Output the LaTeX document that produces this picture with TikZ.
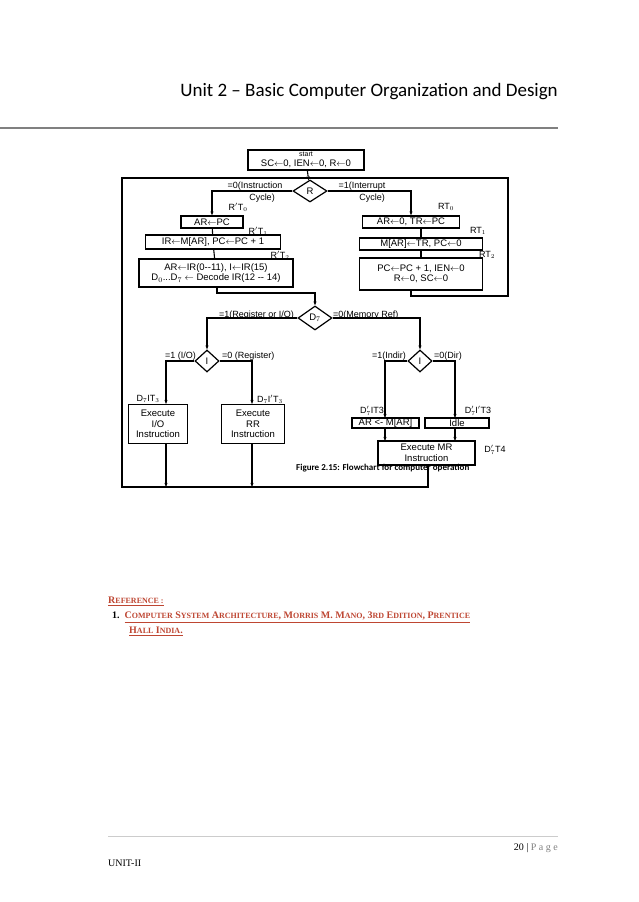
\documentclass[tikz,border=0pt]{standalone}
\usepackage{fontspec}
\setmainfont{Liberation Serif}
\newfontfamily\dsans{Liberation Sans}
\newfontfamily\calfont{Carlito}
\usetikzlibrary{shapes.geometric,arrows.meta}
\definecolor{refred}{RGB}{190,70,50}
\begin{document}
\begin{tikzpicture}[x=1pt,y=-1pt,
  bx/.style={draw,line width=1.2pt,inner sep=0pt,font=\dsans\fontsize{9.5}{10.5}\selectfont,align=center},
  dm/.style={draw,line width=1.2pt,diamond,aspect=1.5,inner sep=0.5pt,font=\dsans\fontsize{9.5}{10}\selectfont},
  ln/.style={line width=1.1pt},
  ar/.style={line width=1.1pt,-{Stealth[length=4pt]}},
  lb/.style={font=\dsans\fontsize{9}{10}\selectfont,inner sep=0pt}]
\useasboundingbox (0,0) rectangle (638,902);
\fill[white] (0,0) rectangle (638,902);
% header
\node[anchor=east,font=\calfont\fontsize{19}{22}\selectfont,inner sep=0] (hd) at (558,92) {Unit 2 \textendash{} Basic Computer Organization and Design};
\coordinate (hl1) at (0,128); \coordinate (hl2) at (558,128);
\draw[gray,line width=1.5pt] (hl1) -- (hl2);
% start
\node[bx,minimum width=116,minimum height=20] (st) at (306,160) {\fontsize{7}{7}\selectfont start\\[-1pt] SC$\leftarrow$0, IEN$\leftarrow$0, R$\leftarrow$0};
\node[dm,minimum width=34,minimum height=22] (R) at (310,191) {R};
\draw[ar] (st) -- (R);
% outer loop
\coordinate (tp) at (310,178);
\coordinate (lt) at (122,178); \coordinate (rt) at (508,178);
\coordinate (lbc) at (122,487); \coordinate (rb) at (508,296);
% left column
\node[bx,minimum width=62,minimum height=12] (a1) at (212,222) {AR$\leftarrow$PC};
\node[bx,minimum width=135,minimum height=14] (a2) at (213,242) {IR$\leftarrow$M[AR], PC$\leftarrow$PC + 1};
\node[bx,minimum width=154,minimum height=28] (a3) at (216,273) {AR$\leftarrow$IR(0--11), I$\leftarrow$IR(15)\\D$_0$...D$_7$ $\leftarrow$ Decode IR(12 -- 14)};
\draw[ar] (R.west) -| (a1.north);
\draw[ln] (a1) -- (a2); \draw[ln] (a2) -- (a3);
\node[lb] at (255,186) {=0(Instruction};
\node[lb] at (262,198) {Cycle)};
\node[lb] at (238,207) {R$'$T$_0$};
\node[lb] at (258,231) {R$'$T$_1$};
\node[lb] at (280,255) {R$'$T$_2$};
% right column
\node[bx,minimum width=97,minimum height=12] (b1) at (411,222) {AR$\leftarrow$0, TR$\leftarrow$PC};
\node[bx,minimum width=123,minimum height=12] (b2) at (421,244) {M[AR]$\leftarrow$TR, PC$\leftarrow$0};
\node[bx,minimum width=123,minimum height=32] (b3) at (421,274) {PC$\leftarrow$PC + 1, IEN$\leftarrow$0\\R$\leftarrow$0, SC$\leftarrow$0};
\draw[ar] (R.east) -| (b1.north);
\draw[ln] (b1.south -| b2) -- (b2); \draw[ln] (b2) -- (b3);
\node[lb] at (362,186) {=1(Interrupt};
\node[lb] at (372,198) {Cycle)};
\node[lb] at (446,207) {RT$_0$};
\node[lb] at (478,231) {RT$_1$};
\node[lb] at (487,255) {RT$_2$};
\coordinate (b3d) at (411,296);
\draw[ln] (b3.south -| b3d) -- (b3d) -- (rb) -- (rt) -- (tp);
% D7
\node[dm,minimum width=34,minimum height=24] (D7) at (315,318) {D$_7$};
\coordinate (j1) at (217,293); \coordinate (j2) at (315,293);
\draw[ar] (a3.south -| j1) -- (j1) -- (j2) -- (D7.north);
\node[lb,anchor=east] at (294,315) {=1(Register or I/O)};
\node[lb,anchor=west] at (333,315) {=0(Memory Ref)};
% left I
\node[dm,minimum width=24,minimum height=22,aspect=1.1] (I1) at (207,361) {I};
\draw[ar] (D7.west) -| (I1.north);
\node[lb,anchor=east] at (196,356) {=1 (I/O)};
\node[lb,anchor=west] at (222,356) {=0 (Register)};
\node[bx,minimum width=59,minimum height=39] (io) at (158,424) {Execute\\I/O\\Instruction};
\node[bx,minimum width=63,minimum height=39] (rr) at (253,424) {Execute\\RR\\Instruction};
\coordinate (io1) at (166,404); \coordinate (rr1) at (252,404);
\draw[ar] (I1.west) -| (io1);
\draw[ar] (I1.east) -| (rr1);
\node[lb] at (148,399) {D$_7$IT$_3$};
\node[lb] at (270,399) {D$_7$I$'$T$_3$};
\coordinate (io2) at (166,487); \coordinate (rr2) at (252,487);
\draw[ar] (io.south -| io2) -- (io2);
\draw[ar] (rr.south -| rr2) -- (rr2);
% right I
\node[dm,minimum width=24,minimum height=22,aspect=1.1] (I2) at (420,361) {I};
\draw[ar] (D7.east) -| (I2.north);
\node[lb,anchor=east] at (406,356) {=1(Indir)};
\node[lb,anchor=west] at (434,356) {=0(Dir)};
\node[bx,minimum width=67,minimum height=10] (c1) at (385.5,423) {AR \textless- M[AR]};
\node[bx,minimum width=64,minimum height=10] (c2) at (457,423) {Idle};
\coordinate (c1t) at (385,418); \coordinate (c2t) at (455,418);
\draw[ar] (I2.west) -| (c1t);
\draw[ar] (I2.east) -| (c2t);
\node[lb] at (372,411) {D$_7'$IT3};
\node[lb] at (478,411) {D$_7'$I$'$T3};
\node[bx,minimum width=97,minimum height=24] (mr) at (426.5,453) {Execute MR\\Instruction};
\coordinate (c1b) at (385,441); \coordinate (c2b) at (455,441);
\draw[ar] (c1.south -| c1b) -- (c1b);
\draw[ar] (c2.south -| c2b) -- (c2b);
\node[lb] at (495,450) {D$_7'$T4};
\coordinate (mrb) at (428,487);
\draw[ln] (mr.south -| mrb) -- (mrb) -- (lbc) -- (lt) -- (tp);
\node[font=\calfont\bfseries\fontsize{9}{10}\selectfont,anchor=west,inner sep=0] (cap) at (296,468) {Figure 2.15: Flowchart for computer operation};
% references
\node[anchor=west,inner sep=0,text=refred,font=\bfseries\fontsize{10}{12}\selectfont] (rf) at (108,601) {\underline{R\fontsize{8}{10}\selectfont EFERENCE :}};
\node[anchor=north west,inner sep=0,text=refred,font=\bfseries\fontsize{10}{15}\selectfont,align=left] (r1) at (112,612)
 {\textcolor{black}{1.}\ \ \underline{C{\fontsize{8}{10}\selectfont OMPUTER} S{\fontsize{8}{10}\selectfont YSTEM} A{\fontsize{8}{10}\selectfont RCHITECTURE}, M{\fontsize{8}{10}\selectfont ORRIS} M. M{\fontsize{8}{10}\selectfont ANO}, 3{\fontsize{8}{10}\selectfont RD} E{\fontsize{8}{10}\selectfont DITION}, P{\fontsize{8}{10}\selectfont RENTICE}}\\
 \hspace*{17pt}\underline{H{\fontsize{8}{10}\selectfont ALL} I{\fontsize{8}{10}\selectfont NDIA}.}};
% footer
\coordinate (f1) at (108,836); \coordinate (f2) at (558,836);
\draw[gray!40,line width=0.6pt] (f1) -- (f2);
\node[anchor=east,inner sep=0,font=\fontsize{10}{12}\selectfont] (pg) at (558,848) {20 | \textcolor{gray}{P a g e}};
\node[anchor=west,inner sep=0,font=\fontsize{10}{12}\selectfont] (un) at (108,863) {UNIT-II};
\end{tikzpicture}
\end{document}
